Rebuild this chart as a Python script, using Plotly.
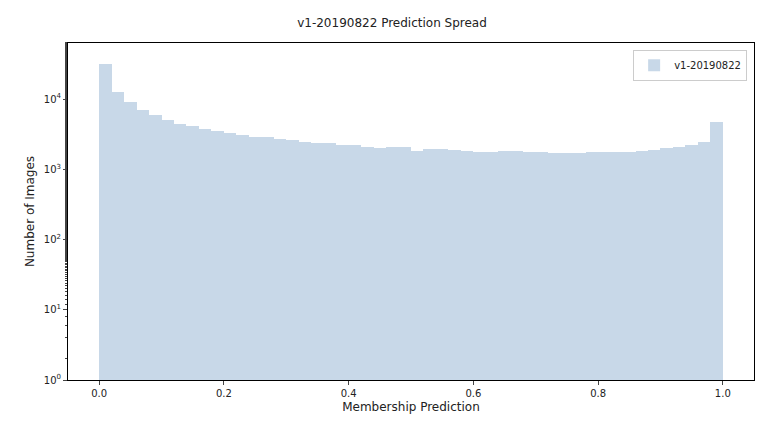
import plotly.graph_objects as go

# histogram of membership predictions, 50 bins over [0, 1]
bin_centers = [round(0.01 + 0.02 * i, 2) for i in range(50)]
counts = [32000, 12600, 9100, 7100, 6000, 5100, 4500, 4100, 3800, 3500,
          3250, 3100, 2900, 2900, 2700, 2600, 2450, 2350, 2350, 2250,
          2200, 2100, 2000, 2100, 2100, 1820, 1950, 1950, 1900, 1820,
          1780, 1780, 1820, 1820, 1780, 1740, 1700, 1700, 1700, 1740,
          1780, 1780, 1780, 1820, 1900, 2000, 2050, 2200, 2450, 4700]

x_ticks = [0.0, 0.2, 0.4, 0.6, 0.8, 1.0]
y_ticks = [1, 10, 100, 1000, 10000]
y_text = ["10<sup>0</sup>", "10<sup>1</sup>", "10<sup>2</sup>", "10<sup>3</sup>", "10<sup>4</sup>"]

fig = go.Figure()
fig.add_trace(go.Bar(x=bin_centers, y=counts, width=0.02,
                     marker=dict(color="#c8d8e8", line=dict(width=0)),
                     name="v1-20190822", showlegend=True))

fig.update_layout(
    width=768, height=421,
    paper_bgcolor="white", plot_bgcolor="white",
    margin=dict(l=60, r=22, t=35, b=49),
    font=dict(family="DejaVu Sans", size=10, color="#222"),
    title=dict(text="v1-20190822 Prediction Spread", x=0.5, xanchor="center",
               y=0.965, yanchor="middle", font=dict(size=12)),
    bargap=0,
    legend=dict(x=0.99, y=0.98, xanchor="right", yanchor="top",
                bordercolor="#ccc", borderwidth=1, font=dict(size=10)),
)
fig.update_xaxes(range=[-0.05, 1.05], tickvals=x_ticks, ticktext=[f"{v:.1f}" for v in x_ticks],
                 ticks="outside", ticklen=4, showgrid=False, zeroline=False,
                 showline=True, linecolor="black", linewidth=1, mirror=True, automargin=False,
                 title=dict(text="Membership Prediction", standoff=4))
fig.update_yaxes(type="log", range=[0, 4.8], tickvals=y_ticks, ticktext=y_text,
                 ticks="outside", ticklen=4, showgrid=False, zeroline=False,
                 showline=True, linecolor="black", linewidth=1, mirror=True, automargin=False,
                 minor=dict(ticks="outside", ticklen=2, tickwidth=0.6, showgrid=False),
                 title=dict(text="Number of Images", standoff=6))

fig.write_html("out.html")
